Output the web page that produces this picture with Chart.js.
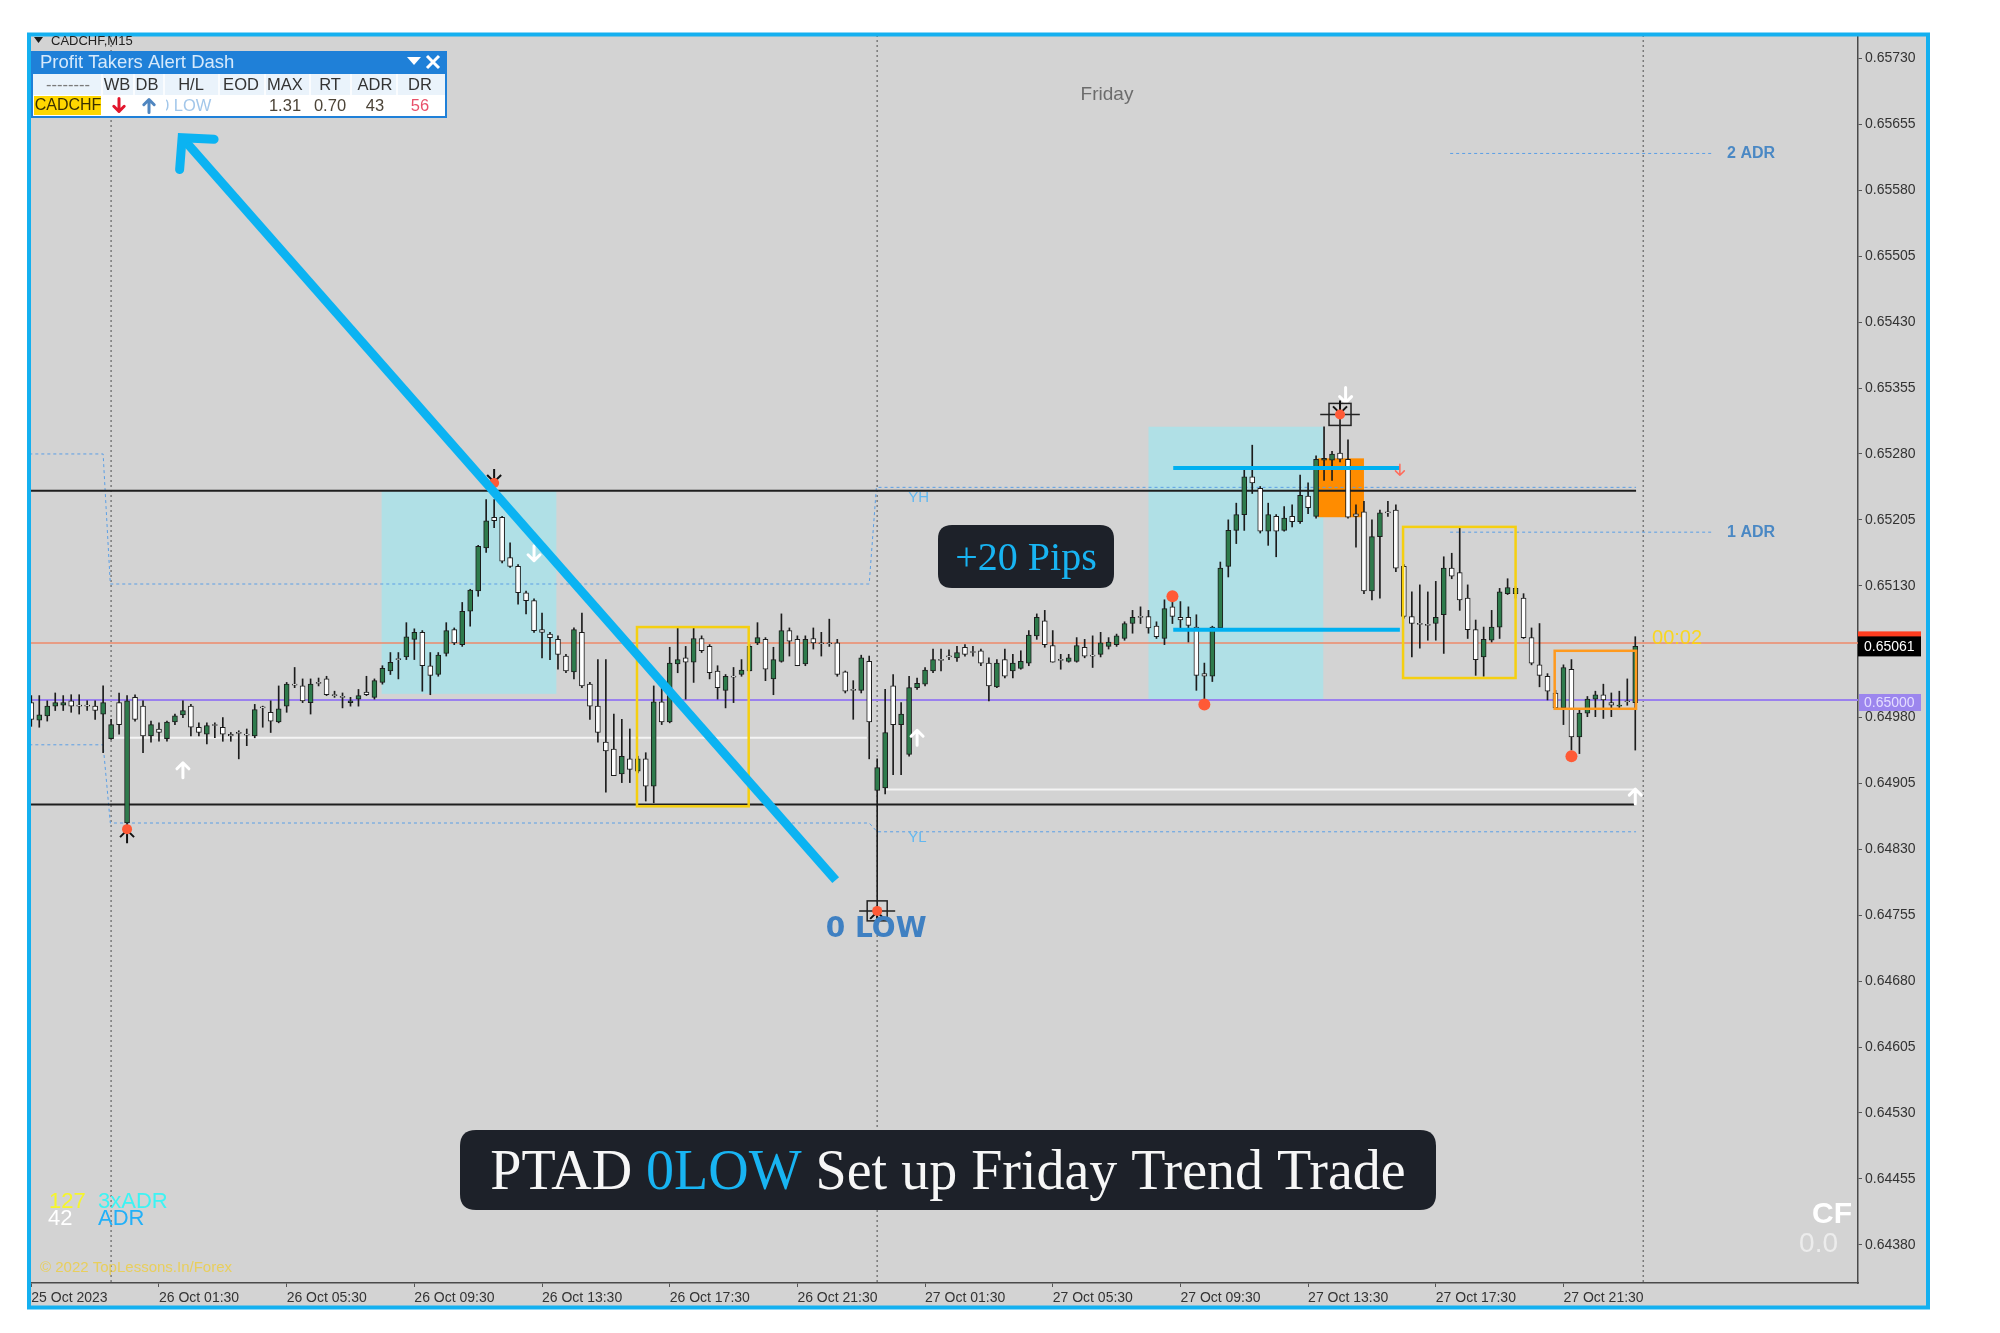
<!DOCTYPE html>
<html>
<head>
<meta charset="utf-8">
<title>CADCHF M15 - PTAD 0LOW</title>
<script src="https://cdn.jsdelivr.net/npm/chart.js@4.4.1/dist/chart.umd.min.js"></script>
<style>
  html, body { margin: 0; padding: 0; background: #ffffff; }
  canvas { display: block; }
</style>
</head>
<body>
<canvas id="chart" width="2000" height="1333"></canvas>
<script>
// CADCHF M15, bar 0 = 25 Oct 21:30, one bar every 15 minutes
const opens = [
  0.64997, 0.64977, 0.64982, 0.64993, 0.64994, 0.64999, 0.64993, 0.64994, 0.64993, 0.64984,
  0.64956, 0.64997, 0.64860, 0.65003, 0.64993, 0.64959, 0.64967, 0.64956, 0.64975, 0.64983,
  0.64993, 0.64969, 0.64961, 0.64971, 0.64969, 0.64961, 0.64963, 0.64961, 0.64959, 0.64991,
  0.64986, 0.64975, 0.64993, 0.65018, 0.65016, 0.64997, 0.65020, 0.65024, 0.65006, 0.65003,
  0.64997, 0.65001, 0.65009, 0.65003, 0.65020, 0.65033, 0.65046, 0.65049, 0.65069, 0.65077,
  0.65039, 0.65029, 0.65053, 0.65080, 0.65063, 0.65101, 0.65124, 0.65173, 0.65208, 0.65208,
  0.65162, 0.65152, 0.65122, 0.65113, 0.65080, 0.65075, 0.65069, 0.65050, 0.65032, 0.65077,
  0.65018, 0.64993, 0.64952, 0.64944, 0.64916, 0.64933, 0.64919, 0.64933, 0.64902, 0.64998,
  0.64975, 0.65041, 0.65048, 0.65043, 0.65070, 0.65061, 0.65033, 0.65011, 0.65027, 0.65029,
  0.65033, 0.65065, 0.65069, 0.65024, 0.65044, 0.65079, 0.65069, 0.65041, 0.65070, 0.65065,
  0.65065, 0.65065, 0.65032, 0.65011, 0.65011, 0.65044, 0.64897, 0.64900, 0.65016, 0.64972,
  0.64938, 0.65014, 0.65018, 0.65033, 0.65046, 0.65049, 0.65048, 0.65060, 0.65055, 0.65056,
  0.65042, 0.65015, 0.65046, 0.65033, 0.65036, 0.65042, 0.65073, 0.65090, 0.65062, 0.65046,
  0.65044, 0.65044, 0.65060, 0.65051, 0.65052, 0.65061, 0.65063, 0.65070, 0.65087, 0.65094,
  0.65095, 0.65084, 0.65070, 0.65106, 0.65094, 0.65094, 0.65083, 0.65030, 0.65027, 0.65082,
  0.65152, 0.65193, 0.65211, 0.65254, 0.65241, 0.65192, 0.65209, 0.65193, 0.65209, 0.65203,
  0.65232, 0.65209, 0.65273, 0.65273, 0.65281, 0.65274, 0.65212, 0.65214, 0.65124, 0.65186,
  0.65213, 0.65216, 0.65152, 0.65095, 0.65087, 0.65085, 0.65087, 0.65097, 0.65150, 0.65145,
  0.65116, 0.65080, 0.65049, 0.65068, 0.65083, 0.65121, 0.65121, 0.65116, 0.65071, 0.65040,
  0.65027, 0.65008, 0.64991, 0.65035, 0.64958, 0.64985, 0.65001, 0.65006, 0.64997, 0.64993,
  0.64998, 0.64997
];
const highs = [
  0.65005, 0.65005, 0.64999, 0.65008, 0.65005, 0.65006, 0.65006, 0.64999, 0.64999, 0.65016,
  0.64978, 0.65008, 0.65005, 0.65006, 0.64999, 0.64976, 0.64974, 0.64976, 0.64984, 0.64999,
  0.64995, 0.64974, 0.64974, 0.64974, 0.64980, 0.64963, 0.64965, 0.64967, 0.64995, 0.64993,
  0.64999, 0.65016, 0.65020, 0.65037, 0.65024, 0.65024, 0.65025, 0.65027, 0.65010, 0.65008,
  0.65003, 0.65012, 0.65027, 0.65024, 0.65039, 0.65054, 0.65054, 0.65088, 0.65081, 0.65079,
  0.65054, 0.65054, 0.65088, 0.65082, 0.65111, 0.65126, 0.65176, 0.65228, 0.65228, 0.65209,
  0.65179, 0.65154, 0.65124, 0.65115, 0.65099, 0.65077, 0.65073, 0.65052, 0.65082, 0.65099,
  0.65020, 0.65046, 0.65046, 0.64984, 0.64978, 0.64967, 0.64936, 0.64940, 0.65016, 0.65018,
  0.65060, 0.65082, 0.65061, 0.65082, 0.65073, 0.65063, 0.65039, 0.65029, 0.65037, 0.65046,
  0.65063, 0.65088, 0.65071, 0.65060, 0.65098, 0.65082, 0.65073, 0.65073, 0.65082, 0.65077,
  0.65092, 0.65069, 0.65033, 0.65022, 0.65051, 0.65050, 0.64933, 0.65012, 0.65029, 0.64997,
  0.65027, 0.65025, 0.65037, 0.65058, 0.65058, 0.65057, 0.65061, 0.65063, 0.65061, 0.65058,
  0.65048, 0.65046, 0.65058, 0.65052, 0.65056, 0.65079, 0.65098, 0.65102, 0.65079, 0.65052,
  0.65052, 0.65071, 0.65069, 0.65073, 0.65077, 0.65071, 0.65075, 0.65089, 0.65102, 0.65106,
  0.65102, 0.65089, 0.65114, 0.65116, 0.65112, 0.65106, 0.65097, 0.65042, 0.65084, 0.65157,
  0.65205, 0.65224, 0.65262, 0.65290, 0.65243, 0.65224, 0.65211, 0.65220, 0.65222, 0.65256,
  0.65247, 0.65278, 0.65311, 0.65283, 0.65324, 0.65296, 0.65222, 0.65226, 0.65205, 0.65216,
  0.65226, 0.65222, 0.65154, 0.65123, 0.65131, 0.65123, 0.65135, 0.65163, 0.65167, 0.65197,
  0.65131, 0.65091, 0.65083, 0.65102, 0.65127, 0.65138, 0.65129, 0.65121, 0.65082, 0.65087,
  0.65030, 0.65011, 0.65040, 0.65046, 0.64989, 0.65004, 0.65010, 0.65018, 0.65008, 0.65010,
  0.65024, 0.65072
];
const lows = [
  0.64970, 0.64969, 0.64976, 0.64988, 0.64988, 0.64986, 0.64984, 0.64988, 0.64978, 0.64940,
  0.64955, 0.64961, 0.64853, 0.64976, 0.64940, 0.64952, 0.64953, 0.64953, 0.64972, 0.64980,
  0.64959, 0.64959, 0.64950, 0.64957, 0.64953, 0.64953, 0.64933, 0.64948, 0.64957, 0.64969,
  0.64963, 0.64974, 0.64986, 0.65014, 0.64997, 0.64984, 0.65016, 0.65005, 0.65003, 0.64991,
  0.64993, 0.64993, 0.65005, 0.65001, 0.65018, 0.65029, 0.65024, 0.65046, 0.65046, 0.65010,
  0.65006, 0.65027, 0.65050, 0.65063, 0.65061, 0.65084, 0.65118, 0.65168, 0.65196, 0.65156,
  0.65151, 0.65109, 0.65098, 0.65077, 0.65048, 0.65046, 0.65035, 0.65031, 0.65024, 0.65014,
  0.64978, 0.64952, 0.64895, 0.64914, 0.64906, 0.64906, 0.64917, 0.64885, 0.64883, 0.64972,
  0.64974, 0.65031, 0.65001, 0.65020, 0.65054, 0.65024, 0.65001, 0.64991, 0.64997, 0.65027,
  0.65033, 0.65063, 0.65022, 0.65006, 0.65043, 0.65050, 0.65039, 0.65039, 0.65058, 0.65050,
  0.65061, 0.65027, 0.65008, 0.64978, 0.65008, 0.64933, 0.64752, 0.64893, 0.64915, 0.64915,
  0.64936, 0.65012, 0.65016, 0.65031, 0.65033, 0.65046, 0.65044, 0.65050, 0.65050, 0.65039,
  0.64999, 0.65014, 0.65025, 0.65025, 0.65035, 0.65039, 0.65069, 0.65060, 0.65043, 0.65035,
  0.65043, 0.65043, 0.65048, 0.65037, 0.65049, 0.65058, 0.65061, 0.65068, 0.65076, 0.65087,
  0.65076, 0.65070, 0.65063, 0.65087, 0.65082, 0.65066, 0.65011, 0.64998, 0.65021, 0.65080,
  0.65140, 0.65178, 0.65193, 0.65235, 0.65190, 0.65176, 0.65163, 0.65192, 0.65197, 0.65201,
  0.65212, 0.65207, 0.65250, 0.65250, 0.65271, 0.65207, 0.65174, 0.65121, 0.65114, 0.65116,
  0.65209, 0.65146, 0.65093, 0.65049, 0.65059, 0.65068, 0.65068, 0.65053, 0.65138, 0.65102,
  0.65070, 0.65028, 0.65027, 0.65066, 0.65070, 0.65120, 0.65116, 0.65070, 0.65040, 0.65015,
  0.65000, 0.64989, 0.64972, 0.64943, 0.64939, 0.64981, 0.64981, 0.64979, 0.64981, 0.64991,
  0.64994, 0.64943
];
const closes = [
  0.64978, 0.64983, 0.64993, 0.64997, 0.64997, 0.64993, 0.64993, 0.64993, 0.64988, 0.64997,
  0.64972, 0.64972, 0.64999, 0.64978, 0.64959, 0.64972, 0.64963, 0.64975, 0.64982, 0.64988,
  0.64969, 0.64963, 0.64971, 0.64971, 0.64961, 0.64959, 0.64962, 0.64960, 0.64989, 0.64991,
  0.64976, 0.64990, 0.65018, 0.65017, 0.64999, 0.65018, 0.65019, 0.65006, 0.65005, 0.65003,
  0.64999, 0.65005, 0.65006, 0.65022, 0.65036, 0.65043, 0.65046, 0.65072, 0.65077, 0.65039,
  0.65028, 0.65051, 0.65079, 0.65065, 0.65101, 0.65125, 0.65175, 0.65204, 0.65204, 0.65158,
  0.65152, 0.65122, 0.65113, 0.65079, 0.65077, 0.65071, 0.65052, 0.65033, 0.65080, 0.65016,
  0.64993, 0.64963, 0.64942, 0.64914, 0.64936, 0.64921, 0.64933, 0.64902, 0.64998, 0.64975,
  0.65042, 0.65046, 0.65043, 0.65070, 0.65056, 0.65031, 0.65014, 0.65027, 0.65026, 0.65034,
  0.65061, 0.65071, 0.65035, 0.65046, 0.65079, 0.65067, 0.65039, 0.65069, 0.65065, 0.65064,
  0.65064, 0.65029, 0.65010, 0.65011, 0.65048, 0.64975, 0.64923, 0.64963, 0.64972, 0.64984,
  0.65014, 0.65019, 0.65034, 0.65046, 0.65045, 0.65049, 0.65054, 0.65052, 0.65054, 0.65042,
  0.65016, 0.65042, 0.65027, 0.65042, 0.65044, 0.65074, 0.65094, 0.65063, 0.65043, 0.65045,
  0.65048, 0.65062, 0.65050, 0.65050, 0.65065, 0.65066, 0.65073, 0.65087, 0.65094, 0.65094,
  0.65082, 0.65072, 0.65104, 0.65095, 0.65091, 0.65085, 0.65028, 0.65027, 0.65083, 0.65150,
  0.65193, 0.65211, 0.65254, 0.65247, 0.65192, 0.65211, 0.65192, 0.65207, 0.65203, 0.65233,
  0.65219, 0.65274, 0.65275, 0.65280, 0.65274, 0.65208, 0.65209, 0.65124, 0.65186, 0.65213,
  0.65213, 0.65150, 0.65095, 0.65087, 0.65086, 0.65085, 0.65094, 0.65150, 0.65141, 0.65114,
  0.65080, 0.65046, 0.65069, 0.65083, 0.65123, 0.65128, 0.65127, 0.65071, 0.65042, 0.65028,
  0.65010, 0.64991, 0.65037, 0.64958, 0.64985, 0.65001, 0.65006, 0.65000, 0.64994, 0.64994,
  0.64998, 0.65061
];

const priceTicks = [0.64380, 0.64455, 0.64530, 0.64605, 0.64680, 0.64755, 0.64830, 0.64905, 0.64980,
  0.65055, 0.65130, 0.65205, 0.65280, 0.65355, 0.65430, 0.65505, 0.65580, 0.65655, 0.65730];
const timeTickBars = [0, 16, 32, 48, 64, 80, 96, 112, 128, 144, 160, 176, 192];
const timeTickLabels = ['25 Oct 2023', '26 Oct 01:30', '26 Oct 05:30', '26 Oct 09:30', '26 Oct 13:30',
  '26 Oct 17:30', '26 Oct 21:30', '27 Oct 01:30', '27 Oct 05:30', '27 Oct 09:30', '27 Oct 13:30',
  '27 Oct 17:30', '27 Oct 21:30'];
const daySeparators = [10, 106, 202];

// levels
const yhPrice = 0.65238, ylPrice = 0.64881;
const bidPrice = 0.65061, bidLinePrice = 0.65065, roundPrice = 0.65000;
const adrLevels = [0.65191, 0.65622];
const adrLabels = ['1 ADR', '2 ADR'];
const adrSpan = [177.8, 210.7];
const yhDotted = [[-1, 0.65280], [9.0, 0.65280], [9.9, 0.65132], [105.0, 0.65132], [105.9, 0.65242], [201.1, 0.65242]];
const ylDotted = [[-1, 0.64949], [9.0, 0.64949], [9.9, 0.64860], [105.0, 0.64860], [106.0, 0.64850], [201.1, 0.64850]];
const whiteLines = [[9.9, 104.7, 0.64957], [107.0, 201.0, 0.64898]];
// boxes: [fromBar, toBar, topPrice, bottomPrice]
const sessionBoxes = [[43.9, 65.8, 0.65238, 0.65007], [140.0, 161.9, 0.65311, 0.65000]];
const entryZone = [161.2, 167.0, 0.65275, 0.65208];
const rangeBoxes = [[75.9, 89.9, 0.65083, 0.64879], [171.9, 186.0, 0.65197, 0.65025]];
const lastBox = [190.9, 201.1, 0.65056, 0.64990];
const tradeLines = [[143.1, 171.5, 0.65264], [143.1, 171.5, 0.65080]];
// markers: [bar, price]
const redDots = [[143, 0.65118], [147, 0.64995], [193, 0.64936]];
const whiteUp = [[19, 0.64920], [111, 0.64957], [201, 0.64890]];
const whiteDown = [[63, 0.65167], [164.7, 0.65347]];
const lowFractal = [12, 0.64853];
const highFractal = [58, 0.65247];
const zeroLow = [106, 0.64760];
const topSignal = [164, 0.65325];
const bigArrow = [[100.8, 0.64795], [18.9, 0.65640]];

const GREEN = '#2e7b4c';
const WICK = '#1c1c1c';
const SANS = '"Liberation Sans", Arial, sans-serif';
const SERIF = '"Liberation Serif", "Times New Roman", serif';

const bodyColors = opens.map((o, i) => closes[i] > o ? GREEN : '#ffffff');

function roundRect(ctx, x, y, w, h, r) {
  ctx.beginPath();
  ctx.moveTo(x + r, y);
  ctx.lineTo(x + w - r, y);
  ctx.quadraticCurveTo(x + w, y, x + w, y + r);
  ctx.lineTo(x + w, y + h - r);
  ctx.quadraticCurveTo(x + w, y + h, x + w - r, y + h);
  ctx.lineTo(x + r, y + h);
  ctx.quadraticCurveTo(x, y + h, x, y + h - r);
  ctx.lineTo(x, y + r);
  ctx.quadraticCurveTo(x, y, x + r, y);
  ctx.closePath();
}

function arrow(ctx, x, y, h, dir, color, lw) {
  // dir = -1 points up, 1 points down
  ctx.save();
  ctx.strokeStyle = color;
  ctx.lineWidth = lw;
  ctx.lineCap = 'round';
  ctx.lineJoin = 'round';
  ctx.beginPath();
  ctx.moveTo(x, y - dir * h / 2);
  ctx.lineTo(x, y + dir * h / 2);
  ctx.moveTo(x - h * 0.4, y + dir * h * 0.1);
  ctx.lineTo(x, y + dir * h / 2);
  ctx.lineTo(x + h * 0.4, y + dir * h * 0.1);
  ctx.stroke();
  ctx.restore();
}

function fractal(ctx, x, y, dir) {
  // dir 1: marker below a low (chevron pointing up), -1: above a high
  ctx.save();
  ctx.strokeStyle = '#111';
  ctx.lineWidth = 2;
  ctx.beginPath();
  ctx.moveTo(x, y);
  ctx.lineTo(x, y + dir * 14);
  ctx.moveTo(x - 7, y + dir * 8);
  ctx.lineTo(x, y + dir * 1);
  ctx.lineTo(x + 7, y + dir * 8);
  ctx.stroke();
  ctx.fillStyle = '#ff5a36';
  ctx.beginPath();
  ctx.arc(x, y, 5, 0, Math.PI * 2);
  ctx.fill();
  ctx.restore();
}

function target(ctx, x, y, size, dir) {
  ctx.save();
  ctx.strokeStyle = '#222';
  ctx.lineWidth = 1.5;
  ctx.strokeRect(x - size / 2, y - size / 2, size, size);
  ctx.beginPath();
  ctx.moveTo(x - size * 0.9, y);
  ctx.lineTo(x + size * 0.9, y);
  ctx.stroke();
  ctx.restore();
  fractal(ctx, x, y, dir);
}

const overlay = {
  id: 'overlay',
  beforeDraw(chart) {
    const ctx = chart.ctx;
    ctx.save();
    ctx.fillStyle = '#ffffff';
    ctx.fillRect(0, 0, chart.width, chart.height);
    ctx.fillStyle = '#d3d3d3';
    ctx.fillRect(30, 35, 1897, 1271);
    ctx.restore();
  },
  beforeDatasetsDraw(chart) {
    const {ctx, chartArea: a} = chart;
    const X = v => chart.scales.x.getPixelForValue(v);
    const Y = v => chart.scales.y.getPixelForValue(v);
    ctx.save();
    ctx.beginPath();
    ctx.rect(a.left, a.top, a.width, a.height);
    ctx.clip();

    ctx.fillStyle = '#b0e0e6';
    sessionBoxes.forEach(b => {
      ctx.fillRect(X(b[0]), Y(b[2]), X(b[1]) - X(b[0]), Y(b[3]) - Y(b[2]));
    });
    ctx.fillStyle = '#ff8c00';
    ctx.fillRect(X(entryZone[0]), Y(entryZone[2]), X(entryZone[1]) - X(entryZone[0]), Y(entryZone[3]) - Y(entryZone[2]));

    // day separators
    ctx.strokeStyle = '#7a7a7a';
    ctx.lineWidth = 1.5;
    ctx.setLineDash([2, 3]);
    daySeparators.forEach(b => {
      ctx.beginPath();
      ctx.moveTo(X(b), a.top);
      ctx.lineTo(X(b), a.bottom);
      ctx.stroke();
    });

    // yesterday high / low dotted
    ctx.strokeStyle = '#5a9fe6';
    ctx.lineWidth = 1;
    ctx.setLineDash([3, 3]);
    [yhDotted, ylDotted].forEach(path => {
      ctx.beginPath();
      path.forEach((p, i) => i ? ctx.lineTo(X(p[0]), Y(p[1])) : ctx.moveTo(X(p[0]), Y(p[1])));
      ctx.stroke();
    });
    adrLevels.forEach(p => {
      ctx.beginPath();
      ctx.moveTo(X(adrSpan[0]), Y(p));
      ctx.lineTo(X(adrSpan[1]), Y(p));
      ctx.stroke();
    });
    ctx.setLineDash([]);

    // level lines
    ctx.strokeStyle = '#ee8a6a';
    ctx.lineWidth = 1.5;
    ctx.beginPath();
    ctx.moveTo(a.left, Y(bidLinePrice));
    ctx.lineTo(a.right, Y(bidLinePrice));
    ctx.stroke();

    ctx.strokeStyle = '#9a80ee';
    ctx.lineWidth = 2;
    ctx.beginPath();
    ctx.moveTo(a.left, Y(roundPrice));
    ctx.lineTo(a.right, Y(roundPrice));
    ctx.stroke();

    ctx.strokeStyle = '#f4f4f4';
    ctx.lineWidth = 2;
    whiteLines.forEach(l => {
      ctx.beginPath();
      ctx.moveTo(X(l[0]), Y(l[2]));
      ctx.lineTo(X(l[1]), Y(l[2]));
      ctx.stroke();
    });

    ctx.strokeStyle = '#1e1e1e';
    ctx.lineWidth = 2;
    [yhPrice, ylPrice].forEach(p => {
      ctx.beginPath();
      ctx.moveTo(a.left, Y(p));
      ctx.lineTo(X(201.1), Y(p));
      ctx.stroke();
    });
    ctx.restore();
  },
  afterDatasetsDraw(chart) {
    const {ctx, chartArea: a} = chart;
    const X = v => chart.scales.x.getPixelForValue(v);
    const Y = v => chart.scales.y.getPixelForValue(v);
    ctx.save();
    ctx.beginPath();
    ctx.rect(a.left, a.top, a.width, a.height);
    ctx.clip();

    ctx.strokeStyle = '#f5cf10';
    ctx.lineWidth = 2.5;
    rangeBoxes.forEach(b => {
      ctx.strokeRect(X(b[0]), Y(b[2]), X(b[1]) - X(b[0]), Y(b[3]) - Y(b[2]));
    });
    ctx.strokeStyle = '#ff9a1e';
    ctx.strokeRect(X(lastBox[0]), Y(lastBox[2]), X(lastBox[1]) - X(lastBox[0]), Y(lastBox[3]) - Y(lastBox[2]));

    ctx.strokeStyle = '#00b0f0';
    ctx.lineWidth = 4;
    tradeLines.forEach(l => {
      ctx.beginPath();
      ctx.moveTo(X(l[0]), Y(l[2]));
      ctx.lineTo(X(l[1]), Y(l[2]));
      ctx.stroke();
    });
    arrow(ctx, X(171.5), Y(0.65262), 11, 1, '#ff6a5a', 1.5);

    ctx.fillStyle = '#ff5a36';
    redDots.forEach(d => {
      ctx.beginPath();
      ctx.arc(X(d[0]), Y(d[1]), 6, 0, Math.PI * 2);
      ctx.fill();
    });
    whiteUp.forEach(d => arrow(ctx, X(d[0]), Y(d[1]), 15, -1, '#ffffff', 3));
    whiteDown.forEach(d => arrow(ctx, X(d[0]), Y(d[1]), 15, 1, '#ffffff', 3));

    fractal(ctx, X(lowFractal[0]), Y(lowFractal[1]), 1);
    fractal(ctx, X(highFractal[0]), Y(highFractal[1]), -1);
    target(ctx, X(zeroLow[0]), Y(zeroLow[1]), 20, 1);
    target(ctx, X(topSignal[0]), Y(topSignal[1]), 22, -1);

    // chart labels
    ctx.textBaseline = 'middle';
    ctx.fillStyle = '#62b8f0';
    ctx.font = '15px ' + SANS;
    ctx.fillText('YH', X(109.9), Y(yhPrice) + 7);
    ctx.fillText('YL', X(109.9), Y(ylPrice) + 33);

    ctx.fillStyle = '#4a88c4';
    ctx.font = 'bold 16px ' + SANS;
    adrLevels.forEach((p, i) => ctx.fillText(adrLabels[i], X(212.5), Y(p)));

    ctx.fillStyle = 'rgba(255, 215, 0, 0.85)';
    ctx.font = '20px ' + SANS;
    ctx.fillText('00:02', X(203.1), Y(0.65070));

    ctx.fillStyle = '#6c6c6c';
    ctx.font = '19px ' + SANS;
    ctx.textAlign = 'center';
    ctx.fillText('Friday', 1107, 95);

    ctx.fillStyle = '#3f80c2';
    ctx.font = 'bold 28px "DejaVu Sans", sans-serif';
    ctx.fillText('0 LOW', X(zeroLow[0]) - 1, 930);

    // bottom-left info
    ctx.textAlign = 'left';
    ctx.textBaseline = 'alphabetic';
    ctx.font = '22px ' + SANS;
    ctx.fillStyle = '#f6f62a';
    ctx.fillText('127', 49, 1208);
    ctx.fillStyle = '#3cf4f4';
    ctx.fillText('3xADR', 98, 1208);
    ctx.fillStyle = '#ffffff';
    ctx.fillText('42', 48, 1225);
    ctx.fillStyle = '#22b0f8';
    ctx.fillText('ADR', 98, 1225);
    ctx.font = '15px ' + SANS;
    ctx.fillStyle = 'rgba(236, 206, 70, 0.85)';
    ctx.fillText('\u00a9 2022 TopLessons.In/Forex', 40, 1272);

    ctx.textAlign = 'right';
    ctx.fillStyle = '#ffffff';
    ctx.font = 'bold 30px ' + SANS;
    ctx.fillText('CF', 1852, 1223);
    ctx.fillStyle = '#ececec';
    ctx.font = '28px ' + SANS;
    ctx.fillText('0.0', 1838, 1252);

    // big annotation arrow
    const x0 = X(bigArrow[0][0]), y0 = Y(bigArrow[0][1]);
    const x1 = X(bigArrow[1][0]), y1 = Y(bigArrow[1][1]);
    const ang = Math.atan2(y0 - y1, x0 - x1);
    ctx.strokeStyle = '#0bb3f2';
    ctx.lineWidth = 9;
    ctx.lineCap = 'butt';
    ctx.beginPath();
    ctx.moveTo(x0, y0);
    ctx.lineTo(x1 + Math.cos(ang) * 3, y1 + Math.sin(ang) * 3);
    ctx.stroke();
    ctx.lineJoin = 'miter';
    ctx.lineCap = 'round';
    ctx.beginPath();
    ctx.moveTo(x1 + Math.cos(ang - 0.8) * 32, y1 + Math.sin(ang - 0.8) * 32);
    ctx.lineTo(x1, y1);
    ctx.lineTo(x1 + Math.cos(ang + 0.8) * 32, y1 + Math.sin(ang + 0.8) * 32);
    ctx.stroke();
    ctx.restore();

    // +20 pips badge
    ctx.save();
    ctx.fillStyle = '#1d2129';
    roundRect(ctx, 938, 525, 176, 63, 14);
    ctx.fill();
    ctx.fillStyle = '#18b4f2';
    ctx.font = '40px ' + SERIF;
    ctx.textAlign = 'center';
    ctx.textBaseline = 'alphabetic';
    ctx.fillText('+20 Pips', 1026, 570);
    ctx.restore();
  },
  afterDraw(chart) {
    const ctx = chart.ctx;
    const Y = v => chart.scales.y.getPixelForValue(v);
    ctx.save();

    // price boxes on the axis
    const yb = Y(bidPrice);
    ctx.fillStyle = '#ff3d1f';
    ctx.fillRect(1858, yb - 15, 63, 8);
    ctx.fillStyle = '#000000';
    ctx.fillRect(1858, yb - 10, 63, 20);
    ctx.fillStyle = '#ffffff';
    ctx.font = '14px ' + SANS;
    ctx.textBaseline = 'middle';
    ctx.fillText(bidPrice.toFixed(5), 1864, yb + 1);
    const yr = Y(roundPrice);
    ctx.fillStyle = '#9c86ee';
    ctx.fillRect(1859, yr - 6, 62, 17);
    ctx.fillStyle = '#e4ddff';
    ctx.fillText(roundPrice.toFixed(5), 1864, yr + 3);

    // window frame
    ctx.strokeStyle = '#14b0f0';
    ctx.lineWidth = 4;
    ctx.strokeRect(29, 34.5, 1899, 1273);

    // symbol caption
    ctx.fillStyle = '#1a1a1a';
    ctx.beginPath();
    ctx.moveTo(34, 37); ctx.lineTo(43, 37); ctx.lineTo(38.5, 43);
    ctx.closePath();
    ctx.fill();
    ctx.font = '13px ' + SANS;
    ctx.fillStyle = '#222';
    ctx.fillText('CADCHF,M15', 51, 41);

    // dashboard panel
    ctx.fillStyle = '#1f80d8';
    ctx.fillRect(31, 51, 416, 23);
    ctx.fillStyle = '#eaf3fb';
    ctx.fillRect(33, 74, 412, 21);
    ctx.fillStyle = '#ffffff';
    ctx.fillRect(33, 95, 412, 21);
    ctx.strokeStyle = '#1f80d8';
    ctx.lineWidth = 2;
    ctx.strokeRect(32, 52, 414, 65);
    ctx.fillStyle = '#d6e9fb';
    ctx.font = '18.5px ' + SANS;
    ctx.textAlign = 'left';
    ctx.fillText('Profit Takers Alert Dash', 40, 63);
    ctx.fillStyle = '#ffffff';
    ctx.beginPath();
    ctx.moveTo(407, 57); ctx.lineTo(421, 57); ctx.lineTo(414, 65);
    ctx.closePath();
    ctx.fill();
    ctx.strokeStyle = '#ffffff';
    ctx.lineWidth = 3;
    ctx.beginPath();
    ctx.moveTo(427, 56); ctx.lineTo(439, 68);
    ctx.moveTo(439, 56); ctx.lineTo(427, 68);
    ctx.stroke();

    ctx.strokeStyle = '#ffffff';
    ctx.lineWidth = 1.5;
    [102, 134, 164, 219, 265, 310, 351, 397].forEach(x => {
      ctx.beginPath();
      ctx.moveTo(x, 74); ctx.lineTo(x, 116);
      ctx.stroke();
    });

    ctx.textAlign = 'center';
    ctx.font = '16.5px ' + SANS;
    ctx.fillStyle = '#7a7a7a';
    ctx.fillText('--------', 68, 85);
    ctx.fillStyle = '#333333';
    [['WB', 117], ['DB', 147], ['H/L', 191], ['EOD', 241], ['MAX', 285], ['RT', 330], ['ADR', 375], ['DR', 420]]
      .forEach(h => ctx.fillText(h[0], h[1], 85));

    ctx.fillStyle = '#ffd700';
    ctx.fillRect(34, 96, 67, 19);
    ctx.fillStyle = '#3a3000';
    ctx.font = '16px ' + SANS;
    ctx.fillText('CADCHF', 68, 106);
    arrow(ctx, 119, 105, 13, 1, '#e2152c', 3);
    arrow(ctx, 149, 106, 13, -1, '#4f86c0', 3);
    ctx.font = '16.5px ' + SANS;
    ctx.save();
    ctx.beginPath();
    ctx.rect(166, 96, 52, 20);
    ctx.clip();
    ctx.textAlign = 'left';
    ctx.fillStyle = '#a3c7ea';
    ctx.fillText('0 LOW', 160, 106);
    ctx.restore();
    ctx.fillStyle = '#4c4438';
    ctx.fillText('1.31', 285, 106);
    ctx.fillText('0.70', 330, 106);
    ctx.fillText('43', 375, 106);
    ctx.fillStyle = '#e8506a';
    ctx.fillText('56', 420, 106);

    // caption box
    ctx.fillStyle = '#1d2129';
    roundRect(ctx, 460, 1130, 976, 80, 16);
    ctx.fill();
    ctx.font = '56px ' + SERIF;
    ctx.textAlign = 'left';
    ctx.textBaseline = 'alphabetic';
    const parts = [['PTAD ', '#f6f6f6'], ['0LOW', '#18b4f2'], [' Set up Friday Trend Trade', '#f6f6f6']];
    const total = parts.reduce((s, p) => s + ctx.measureText(p[0]).width, 0);
    let tx = 948 - total / 2;
    parts.forEach(p => {
      ctx.fillStyle = p[1];
      ctx.fillText(p[0], tx, 1189);
      tx += ctx.measureText(p[0]).width;
    });
    ctx.restore();
  }
};

const ctx = document.getElementById('chart').getContext('2d');
const chart = new Chart(ctx, {
  type: 'bar',
  data: {
    datasets: [
      {
        label: 'body',
        data: opens.map((o, i) => ({ x: i, y: [o, closes[i]] })),
        backgroundColor: bodyColors,
        borderColor: WICK,
        borderWidth: 1,
        borderSkipped: false,
        barThickness: 5,
        minBarLength: 1,
        grouped: false,
        order: 0
      },
      {
        label: 'wick',
        data: lows.map((l, i) => ({ x: i, y: [l, highs[i]] })),
        backgroundColor: WICK,
        borderWidth: 0,
        barThickness: 1,
        grouped: false,
        order: 1
      }
    ]
  },
  options: {
    responsive: false,
    animation: false,
    devicePixelRatio: 1,
    events: [],
    layout: { padding: { left: 30, top: 35, right: 0, bottom: 0 } },
    plugins: { legend: { display: false }, tooltip: { enabled: false } },
    scales: {
      x: {
        type: 'linear',
        offset: false,
        min: -0.163,
        max: 228.91,
        grid: { drawOnChartArea: false, drawTicks: true, tickLength: 4, color: '#555', offset: false },
        border: { display: true, color: '#4a4a4a', width: 1.5 },
        afterBuildTicks: s => { s.ticks = timeTickBars.map(v => ({ value: v })); },
        afterFit: s => { s.height = 50; },
        ticks: {
          autoSkip: false,
          maxRotation: 0,
          align: 'start',
          padding: 3,
          color: '#333',
          font: { family: SANS, size: 14 },
          callback: (v, i) => timeTickLabels[i]
        }
      },
      y: {
        type: 'linear',
        position: 'right',
        min: 0.643365,
        max: 0.657568,
        grid: { drawOnChartArea: false, drawTicks: true, tickLength: 4, color: '#555' },
        border: { display: true, color: '#4a4a4a', width: 1.5 },
        afterBuildTicks: s => { s.ticks = priceTicks.map(v => ({ value: v })); },
        afterFit: s => { s.width = 142; },
        ticks: {
          padding: 3,
          color: '#333',
          font: { family: SANS, size: 14 },
          callback: v => v.toFixed(5)
        }
      }
    }
  },
  plugins: [overlay]
});
</script>
</body>
</html>
